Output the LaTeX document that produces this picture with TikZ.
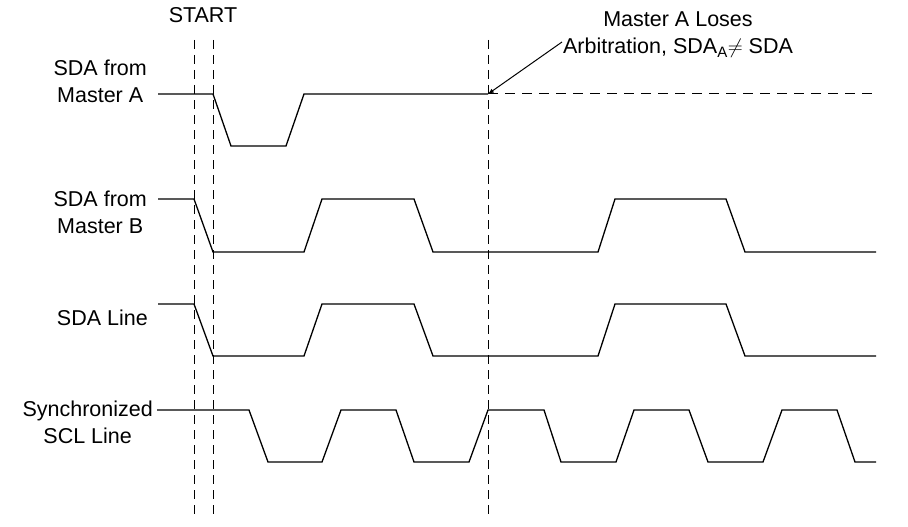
\documentclass[tikz,border=0pt]{standalone}
\usepackage{fontspec}
\setmainfont{Liberation Sans}
\begin{document}
\begin{tikzpicture}[x=1pt,y=-1pt,
  sig/.style={line width=1.3pt},
  guide/.style={line width=1pt,dash pattern=on 9pt off 6pt},
  lbl/.style={font=\fontsize{21.5}{27}\selectfont,align=center,inner sep=0pt}]
\useasboundingbox (0,0) rectangle (908,527);
% guides
\draw[guide] (194,40) -- (194,515);
\draw[guide] (213,40) -- (213,515);
\draw[guide] (488,40) -- (488,515);
% labels
\node[lbl,anchor=east] (la) at (147,81) {SDA from\\Master A};
\node[lbl,anchor=east] (lb) at (147,212) {SDA from\\Master B};
\node[lbl,anchor=east] (ll) at (148,318) {SDA Line};
\node[lbl,anchor=east] (ls) at (153,422) {Synchronized\\SCL Line};
\node[lbl] (st) at (203,15) {START};
\node[lbl] (ml) at (678,35) {Master A Loses\\Arbitration, SDA\textsubscript{A}$\neq$ SDA};
% signals
\coordinate (lost) at (488,94);
\draw[sig] (158,94) -- (213,94) -- (231,146) -- (286,146) -- (304,94) -- (lost);
\draw[line width=1pt,dash pattern=on 10pt off 7pt] (lost) -- (876,94);
\draw[sig] (158,199) -- (194,199) -- (213,252) -- (304,252) -- (322,199) -- (414,199) -- (433,252) -- (598,252) -- (615,199) -- (726,199) -- (745,252) -- (876,252);
\draw[sig] (158,304) -- (194,304) -- (213,356) -- (304,356) -- (322,304) -- (414,304) -- (433,356) -- (598,356) -- (615,304) -- (726,304) -- (745,356) -- (876,356);
\draw[sig] (157,410) -- (249,410) -- (268,462) -- (322,462) -- (341,410) -- (396,410) -- (414,462) -- (469,462) -- (488,410) -- (544,410) -- (561,462) -- (616,462) -- (634,410) -- (689,410) -- (708,462) -- (763,462) -- (782,410) -- (837,410) -- (855,462) -- (876,462);
% arrow
\coordinate (atail) at (562,42);
\draw[line width=1pt,-latex] (atail) -- (lost);
\end{tikzpicture}
\end{document}
